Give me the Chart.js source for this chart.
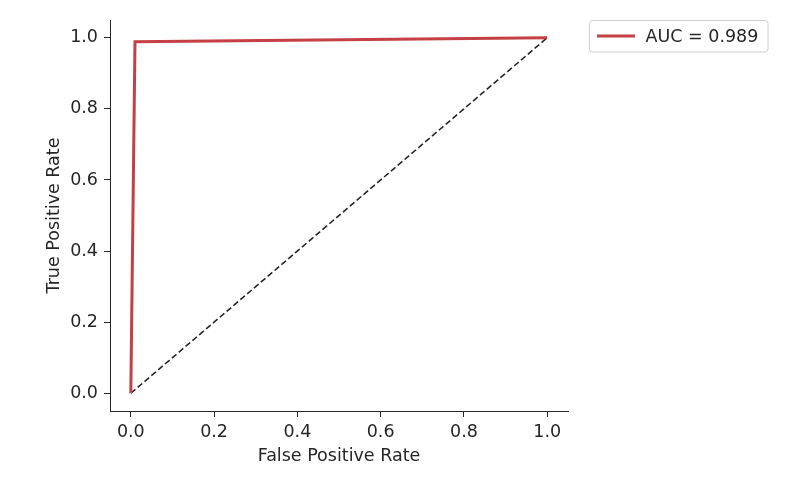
<!DOCTYPE html>
<html>
<head>
<meta charset="utf-8">
<script src="https://cdn.jsdelivr.net/npm/chart.js@4/dist/chart.umd.min.js"></script>
<style>
  html, body { margin: 0; padding: 0; background: #ffffff; }
  #wrap { width: 808px; height: 483px; }
</style>
</head>
<body>
<div id="wrap"><canvas id="c" width="808" height="483"></canvas></div>
<script>
// ROC curve data
const fpr = [0.0, 0.01, 1.0];
const tpr = [0.0, 0.989, 1.0];
const chanceX = [0.0, 1.0];
const chanceY = [0.0, 1.0];
const rocLabel = 'AUC = 0.989';
const xTicks = [0.0, 0.2, 0.4, 0.6, 0.8, 1.0];
const yTicks = [0.0, 0.2, 0.4, 0.6, 0.8, 1.0];
const xTitle = 'False Positive Rate';
const yTitle = 'True Positive Rate';

const INK = '#262626';
const RED = '#c44044';
const FONT_SIZE = 17.5;

Chart.defaults.font.family = "'DejaVu Sans', sans-serif";
Chart.defaults.font.size = FONT_SIZE;
Chart.defaults.color = INK;

const legendBox = {
  id: 'legendBox',
  afterDraw(chart) {
    const ctx = chart.ctx;
    const ds = chart.data.datasets[0];
    const x0 = 589.5, y0 = 20.5, w = 178.5, h = 31.5, r = 3;
    ctx.save();
    ctx.beginPath();
    ctx.moveTo(x0 + r, y0);
    ctx.lineTo(x0 + w - r, y0);
    ctx.arcTo(x0 + w, y0, x0 + w, y0 + r, r);
    ctx.lineTo(x0 + w, y0 + h - r);
    ctx.arcTo(x0 + w, y0 + h, x0 + w - r, y0 + h, r);
    ctx.lineTo(x0 + r, y0 + h);
    ctx.arcTo(x0, y0 + h, x0, y0 + h - r, r);
    ctx.lineTo(x0, y0 + r);
    ctx.arcTo(x0, y0, x0 + r, y0, r);
    ctx.closePath();
    ctx.fillStyle = 'rgba(255,255,255,0.8)';
    ctx.fill();
    ctx.strokeStyle = '#d0d0d0';
    ctx.lineWidth = 1;
    ctx.stroke();
    const ly = 36;
    ctx.beginPath();
    ctx.moveTo(597, ly);
    ctx.lineTo(635, ly);
    ctx.strokeStyle = ds.borderColor;
    ctx.lineWidth = ds.borderWidth;
    ctx.stroke();
    ctx.fillStyle = INK;
    ctx.font = FONT_SIZE + "px 'DejaVu Sans', sans-serif";
    ctx.textBaseline = 'middle';
    ctx.textAlign = 'left';
    ctx.fillText(ds.label, 645.5, ly + 1);
    ctx.restore();
  }
};

new Chart(document.getElementById('c'), {
  type: 'scatter',
  data: {
    datasets: [
      {
        label: rocLabel,
        data: fpr.map((v, i) => ({ x: v, y: tpr[i] })),
        showLine: true,
        borderColor: RED,
        borderWidth: 3,
        pointRadius: 0,
        tension: 0,
        borderJoinStyle: 'miter'
      },
      {
        label: 'chance',
        data: chanceX.map((v, i) => ({ x: v, y: chanceY[i] })),
        showLine: true,
        borderColor: '#262626',
        borderWidth: 1.6,
        borderDash: [6, 3],
        pointRadius: 0,
        tension: 0
      }
    ]
  },
  options: {
    responsive: false,
    animation: false,
    events: [],
    layout: { padding: { top: 20, right: 240, left: 0, bottom: 0 } },
    plugins: {
      legend: { display: false },
      tooltip: { enabled: false }
    },
    scales: {
      x: {
        type: 'linear',
        min: -0.05,
        max: 1.05,
        afterBuildTicks: (axis) => { axis.ticks = xTicks.map(v => ({ value: v })); },
        afterFit: (scale) => { scale.height = 72; },
        ticks: {
          padding: 5,
          color: INK,
          maxRotation: 0,
          autoSkip: false,
          callback: (v) => Number(v).toFixed(1)
        },
        grid: { display: true, drawOnChartArea: false, drawTicks: true, tickLength: 6, color: INK, tickWidth: 1 },
        border: { display: true, color: INK, width: 1 },
        title: { display: true, text: xTitle, color: INK, padding: { top: 0, bottom: 16 } }
      },
      y: {
        type: 'linear',
        min: -0.05,
        max: 1.05,
        afterBuildTicks: (axis) => { axis.ticks = yTicks.map(v => ({ value: v })); },
        afterFit: (scale) => { scale.width = 110; },
        ticks: {
          padding: 6,
          color: INK,
          autoSkip: false,
          callback: (v) => Number(v).toFixed(1)
        },
        grid: { display: true, drawOnChartArea: false, drawTicks: true, tickLength: 6, color: INK, tickWidth: 1 },
        border: { display: true, color: INK, width: 1 },
        title: { display: true, text: yTitle, color: INK, padding: { top: 44, bottom: 0 } }
      }
    }
  },
  plugins: [legendBox]
});
</script>
</body>
</html>
